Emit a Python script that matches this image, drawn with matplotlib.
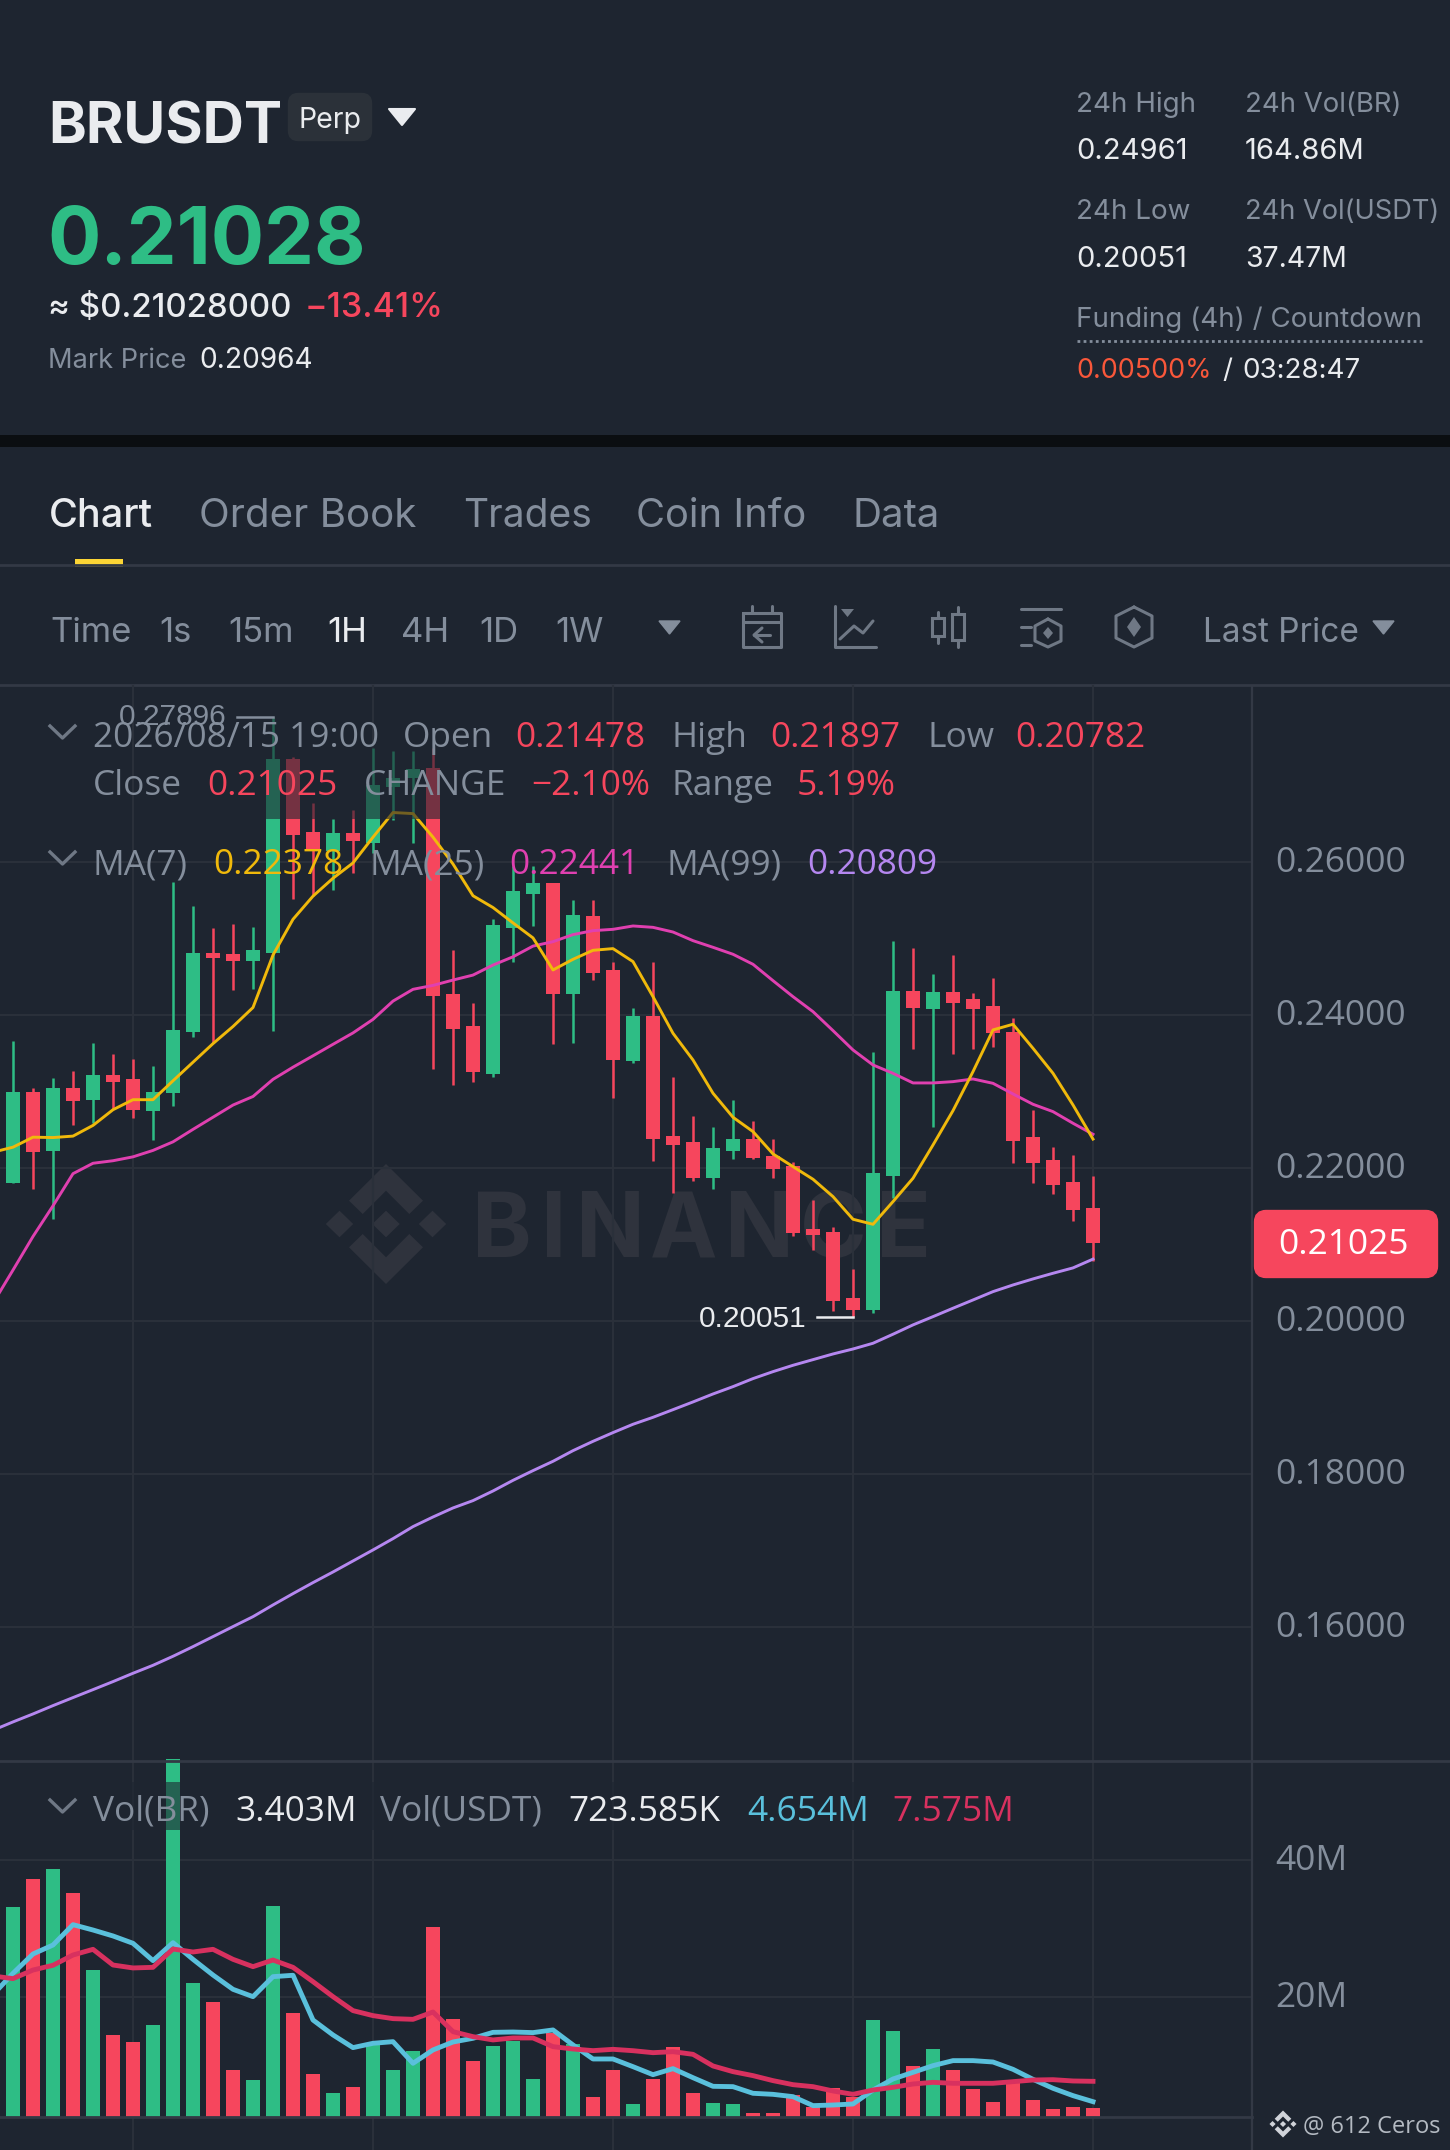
import numpy as np
import matplotlib
matplotlib.use("Agg")
import matplotlib.pyplot as plt
from matplotlib.patches import FancyBboxPatch, Polygon, Rectangle
from matplotlib.transforms import ScaledTranslation

W, H = 1450, 2150
BG = "#1E2530"
GREEN = "#2EBD85"
RED = "#F6465D"
GREY = "#848E9C"
WHITE = "#EAECEF"
LINE = "#333945"
GRID = "#2A303A"
ICON = "#6F7885"
YELLOW = "#F0B90B"
PINK = "#E040B0"
PURPLE = "#B587F0"
VOL_BLUE = "#5AC0DC"
VOL_PINK = "#D8315F"

# hourly candles
open_ = [.21810, .22996, .22216, .23047, .22888, .23220, .23168, .22748, .22982, .23780,
         .24817, .24793, .24704, .24807, .27342, .26390, .26138, .26381, .26255, .26978,
         .27095, .27226, .24270, .23850, .23229, .25143, .25587, .25730, .24279, .25294,
         .24589, .23404, .23988, .22415, .22341, .21874, .22219, .22375, .22162, .22027,
         .21203, .21169, .20301, .20149, .21901, .24310, .24083, .24301, .24210, .24114,
         .23783, .22402, .22105, .21813, .21478]
high = [.23663, .23047, .23173, .23266, .23640, .23486, .23421, .23327, .25741, .25419,
        .25139, .25185, .25148, .27896, .27375, .26778, .26567, .26684, .27492, .27445,
        .27445, .27492, .24854, .24154, .25251, .25951, .25951, .25730, .25504, .25504,
        .24689, .24088, .24698, .23195, .22676, .22532, .22890, .22619, .22375, .22084,
        .21582, .21234, .20681, .23513, .24961, .24872, .24532, .24780, .24284, .24480,
        .23957, .22759, .22271, .22166, .21897]
low = [.21810, .21726, .21338, .22566, .22589, .22776, .22655, .22370, .22814, .23710,
       .23640, .24331, .24336, .23785, .25522, .25554, .25638, .25858, .26115, .26549,
       .26255, .23299, .23080, .23122, .23196, .24690, .25167, .23621, .23639, .24458,
       .22920, .23378, .22097, .21678, .21826, .21731, .22114, .22114, .21866, .21116,
       .20929, .20136, .20051, .20110, .21604, .23561, .22541, .23486, .23552, .23587,
       .22070, .21809, .21656, .21304, .20782]
close = [.23000, .22207, .23047, .22879, .23210, .23126, .22758, .23000, .23799, .24807,
         .24742, .24704, .24849, .27342, .26353, .26147, .26381, .26269, .27002, .27104,
         .27216, .24242, .23817, .23252, .25176, .25620, .25722, .24275, .25303, .24554,
         .23408, .23988, .22384, .22306, .21874, .22266, .22375, .22127, .21983, .21155,
         .21121, .20262, .20149, .21935, .24310, .24088, .24301, .24162, .24075, .23761,
         .22354, .22070, .21779, .21452, .21025]

# moving averages start one candle left of the visible range
ma7 = [.22207, .22272, .22403, .22398, .22417, .22557, .22762, .22893, .22893, .23140,
       .23383, .23626, .23850, .24098, .24784, .25251, .25554, .25788, .25988, .26325,
       .26647, .26633, .26325, .25974, .25559, .25405, .25204, .25008, .24589, .24728,
       .24846, .24868, .24698, .24240, .23761, .23412, .22977, .22663, .22476, .22184,
       .22018, .21853, .21626, .21330, .21264, .21561, .21866, .22301, .22750, .23260,
       .23805, .23879, .23565, .23238, .22824, .22378]
ma25 = [.20232, .20666, .21105, .21506, .21926, .22062, .22095, .22146, .22230, .22342,
        .22505, .22664, .22823, .22935, .23159, .23318, .23467, .23617, .23766, .23943,
        .24182, .24336, .24387, .24457, .24522, .24653, .24761, .24901, .24959, .25051,
        .25103, .25120, .25164, .25146, .25085, .24972, .24885, .24794, .24663, .24449,
        .24240, .24044, .23796, .23543, .23347, .23238, .23112, .23112, .23129, .23164,
        .23107, .22968, .22833, .22737, .22585, .22441]
ma99 = [.14650, .14759, .14863, .14972, .15077, .15181, .15286, .15395, .15499, .15617,
        .15743, .15874, .16005, .16135, .16288, .16436, .16580, .16719, .16863, .17007,
        .17155, .17312, .17438, .17556, .17652, .17778, .17917, .18044, .18166, .18305,
        .18427, .18541, .18650, .18741, .18841, .18942, .19046, .19142, .19247, .19338,
        .19421, .19495, .19569, .19634, .19709, .19827, .19949, .20057, .20167, .20275,
        .20384, .20471, .20550, .20624, .20694, .20809]

# volume in millions
volume = [33.09, 37.23, 38.64, 35.14, 23.94, 14.41, 13.43, 15.87, 54.70, 22.00,
          19.22, 9.35, 7.84, 33.29, 17.67, 8.81, 6.04, 6.82, 12.95, 9.39,
          12.07, 30.22, 16.74, 10.66, 12.85, 13.63, 8.03, 14.70, 13.14, 5.35,
          9.29, 4.33, 7.98, 12.70, 5.94, 4.53, 4.43, 3.02, 3.02, 5.69,
          3.99, 6.76, 5.45, 16.59, 14.99, 9.88, 12.41, 9.34, 6.52, 4.62,
          7.64, 4.96, 3.60, 3.94, 3.75]
vol_ma_fast = [20.34, 23.46, 26.28, 27.59, 30.56, 29.78, 28.91, 27.84, 25.31, 27.93,
               25.50, 23.21, 21.12, 20.05, 22.97, 23.17, 16.64, 14.46, 12.61, 13.24,
               13.48, 10.32, 12.27, 13.43, 13.97, 14.84, 14.89, 14.80, 15.19, 13.00,
               10.95, 10.95, 9.83, 8.66, 9.54, 8.22, 6.96, 6.91, 5.94, 5.79,
               5.45, 4.14, 4.23, 4.38, 6.42, 8.03, 9.00, 9.98, 10.71, 10.71,
               10.51, 9.44, 7.98, 6.67, 5.60, 4.72]
vol_ma_slow = [23.07, 22.68, 23.94, 24.63, 26.13, 26.96, 24.67, 24.24, 24.33, 27.01,
               26.57, 26.96, 25.50, 24.43, 25.40, 24.33, 22.24, 20.05, 18.01, 17.28,
               16.84, 16.74, 17.81, 14.94, 14.21, 13.73, 14.02, 14.02, 12.75, 12.41,
               12.17, 12.36, 12.16, 11.87, 12.02, 11.63, 9.93, 9.10, 8.52, 7.79,
               7.20, 6.91, 6.28, 5.79, 6.42, 6.81, 7.30, 7.54, 7.40, 7.40,
               7.40, 7.64, 7.88, 7.93, 7.74, 7.69]

price_ticks = [.16, .18, .20, .22, .24, .26]
vol_ticks = [20, 40]
time_grid = [6, 18, 30, 42, 54]

plt.rcParams["font.family"] = ["Inter", "Noto Sans", "DejaVu Sans"]


def add_axes(fig, x0, y0, x1, y1, zorder):
    return fig.add_axes([x0 / W, 1 - y1 / H, (x1 - x0) / W, (y1 - y0) / H], zorder=zorder)


def style_panel(ax, ticks):
    ax.set_facecolor("none")
    ax.set_xlim(-0.65, 61.95)
    ax.set_xticks(time_grid)
    ax.set_yticks(ticks)
    ax.yaxis.tick_right()
    ax.tick_params(length=0, labelbottom=False, labelsize=25.5, labelcolor=GREY, pad=17)
    ax.grid(color=GRID, lw=1.5)
    ax.set_axisbelow(True)
    for s in ax.spines.values():
        s.set_visible(False)


def lift_labels(ax, px):
    shift = ScaledTranslation(0, px / 100, ax.figure.dpi_scale_trans)
    for lab in ax.get_yticklabels():
        lab.set_transform(lab.get_transform() + shift)


def txt(ax, x, y, s, size, color=GREY, weight="normal", family=None, ha="left"):
    return ax.text(x, y, s, fontsize=size, color=color, fontweight=weight, ha=ha, va="baseline",
                   family=family if family else plt.rcParams["font.family"])


def binance_logo(ax, cx, cy, k, color):
    d = [(0, -13.3), (13.7, 0), (0, 13.3), (-13.7, 0)]
    top = [(0, -60), (37, -23.3), (23.3, -10), (0, -33.3), (-23.3, -10), (-37, -23.3)]
    bottom = [(px, -py) for px, py in top]
    shapes = [d, [(px - 46.5, py) for px, py in d], [(px + 46.5, py) for px, py in d], top, bottom]
    for s in shapes:
        ax.add_patch(Polygon([(cx + k * px, cy + k * py) for px, py in s], closed=True, fc=color, ec="none"))


def icon_line(ax, xs, ys):
    ax.plot(xs, ys, color=ICON, lw=2.2, solid_capstyle="round", solid_joinstyle="round")


fig = plt.figure(figsize=(W / 100, H / 100), dpi=100, facecolor=BG)

# back layer for the watermark, front layer for the interface
back = add_axes(fig, 0, 0, W, H, 0)
back.set_xlim(0, W)
back.set_ylim(H, 0)
back.axis("off")
binance_logo(back, 386, 1224, 1.0, "#2F333D")
for letter, x in zip("BINANCE", [502, 554, 610, 684, 759, 833, 903]):
    back.text(x, 1257, letter, fontsize=65, color="#2F333D", fontweight="bold", ha="center", va="baseline", family="Inter")

# price panel
ax = add_axes(fig, 0, 686, 1252, 1761, 2)
style_panel(ax, price_ticks)
ax.set_ylim(0.14248, 0.28301)
ax.set_yticklabels(["%.5f" % t for t in price_ticks], family="Open Sans")
lift_labels(ax, 3)

for i in range(len(close)):
    c = GREEN if close[i] >= open_[i] else RED
    ax.vlines(i, low[i], high[i], color=c, lw=1.8, zorder=3)
    ax.bar(i, abs(close[i] - open_[i]), bottom=min(open_[i], close[i]), width=0.68, color=c, zorder=3)

ma_x = np.arange(-1, len(close))
ax.plot(ma_x, ma99, color=PURPLE, lw=2.1, zorder=4)
ax.plot(ma_x, ma25, color=PINK, lw=2.1, zorder=4)
ax.plot(ma_x, ma7, color=YELLOW, lw=2.1, zorder=4)

# low marker
ax.plot([40.2, 42], [low[42], low[42]], color=WHITE, lw=1.8, zorder=4)
ax.text(39.7, low[42] - 0.0003, "0.20051", fontsize=21.5, color=WHITE, ha="right", va="center", family="Liberation Sans", zorder=4)

# volume panel
vax = add_axes(fig, 0, 1755, 1252, 2117, 2)
style_panel(vax, vol_ticks)
vax.set_ylim(2.48, 55.33)
vax.set_yticklabels(["%dM" % t for t in vol_ticks], family="Open Sans")
lift_labels(vax, 3)
vol_colors = [GREEN if close[i] >= open_[i] else RED for i in range(len(close))]
vax.bar(np.arange(len(volume)), volume, width=0.69, color=vol_colors, zorder=3)
vax.plot(ma_x, vol_ma_fast, color=VOL_BLUE, lw=3.5, zorder=4)
vax.plot(ma_x, vol_ma_slow, color=VOL_PINK, lw=3.5, zorder=4)

foot = add_axes(fig, 0, 2117, 1252, H, 2)
style_panel(foot, [])
foot.set_ylim(0, 1)

# interface layer in pixel coordinates
ui = add_axes(fig, 0, 0, W, H, 5)
ui.set_xlim(0, W)
ui.set_ylim(H, 0)
ui.axis("off")

ui.add_patch(Rectangle((0, 435), W, 12, fc="#0B0E11", ec="none"))
for y in [565, 685, 1761, 2117]:
    x1 = 1252 if y == 2117 else W
    ui.plot([0, x1], [y, y], color=LINE, lw=2)
ui.plot([1252, 1252], [686, H], color=LINE, lw=1.6)

# translucent label backgrounds dim whatever sits behind them
ui.add_patch(Rectangle((40, 690), 1120, 129, fc=BG, ec="none", alpha=0.6))
ui.add_patch(Rectangle((40, 1782), 980, 48, fc=BG, ec="none", alpha=0.6))
for i in time_grid:
    ui.plot([13 + 20 * i] * 2, [686, 745 if i == 18 else 819], color=GRID, lw=1.5)

# high marker sits on top of the dimmed area, so it goes in this layer
ui.plot([11.2, 13], [high[13], high[13]], color=GREY, lw=1.8, transform=ax.transData)
ui.text(10.7, high[13], "0.27896", fontsize=21.5, color=GREY, ha="right", va="center",
        family="Liberation Sans", transform=ax.transData)

# header
txt(ui, 48, 143, "BRUSDT", 41.2, WHITE, "bold")
ui.add_patch(FancyBboxPatch((292, 97), 76, 40, boxstyle="round,pad=0,rounding_size=6", fc="#2B3139", ec="#2B3139", lw=6))
txt(ui, 299, 128, "Perp", 20.5, WHITE)
ui.add_patch(Polygon([(389, 109), (415, 109), (402, 125)], closed=True, fc=WHITE, ec=WHITE, lw=1.5, joinstyle="round"))
txt(ui, 47, 264, "0.21028", 57, GREEN, "bold")
txt(ui, 48, 317, "≈ $0.21028000", 23.8, WHITE, "medium")
txt(ui, 305, 317, "−13.41%", 24.5, RED, "medium")
txt(ui, 48, 368, "Mark Price", 19.6, GREY)
txt(ui, 199, 368, "0.20964", 20.3, WHITE)

txt(ui, 1076, 112, "24h High", 20)
txt(ui, 1245, 112, "24h Vol(BR)", 19.8)
txt(ui, 1076, 159, "0.24961", 21, WHITE)
txt(ui, 1245, 159, "164.86M", 21, WHITE)
txt(ui, 1076, 219, "24h Low", 20)
txt(ui, 1245, 219, "24h Vol(USDT)", 19.6)
txt(ui, 1076, 267, "0.20051", 21, WHITE)
txt(ui, 1245, 267, "37.47M", 20.4, WHITE)
txt(ui, 1076, 327, "Funding (4h) / Countdown", 20)
ui.plot([1077, 1422], [341, 341], color=GREY, lw=2, dashes=(1, 1.2))
txt(ui, 1076, 378, "0.00500%", 19.4, "#F9573A")
txt(ui, 1222, 378, "/", 20, WHITE)
txt(ui, 1242, 378, "03:28:47", 20, WHITE)

# tabs
tabs = [("Chart", 49, 28.5), ("Order Book", 199, 29), ("Trades", 463, 28), ("Coin Info", 636, 28.7), ("Data", 853, 29)]
for label, x, size in tabs:
    if label == "Chart":
        txt(ui, x, 527, label, size, WHITE, "medium")
    else:
        txt(ui, x, 527, label, size, GREY)
ui.add_patch(Rectangle((75, 559), 48, 8, fc="#FCD535", ec="none"))

# toolbar
periods = [("Time", 50), ("1s", 159), ("15m", 228), ("1H", 327), ("4H", 401), ("1D", 479), ("1W", 555)]
for label, x in periods:
    txt(ui, x, 642, label, 25, WHITE if label == "1H" else GREY)
txt(ui, 1203, 642, "Last Price", 24)
for x0, x1 in [(659, 680), (1373, 1394)]:
    ui.add_patch(Polygon([(x0, 621), (x1, 621), ((x0 + x1) / 2, 634)], closed=True, fc=GREY, ec=GREY, lw=1))

# toolbar icons
icon_line(ui, [743, 781, 781, 743, 743], [613, 613, 647, 647, 613])
icon_line(ui, [743, 781], [622, 622])
icon_line(ui, [752, 752], [606, 613])
icon_line(ui, [772, 772], [606, 613])
icon_line(ui, [770, 754], [635, 635])
icon_line(ui, [762, 754, 762], [628, 635, 642])
icon_line(ui, [835, 835, 876], [606, 647, 647])
ui.add_patch(Polygon([(841, 609), (854, 609), (847.5, 617)], closed=True, fc=ICON, ec="none"))
icon_line(ui, [840, 854, 863, 873], [639, 626, 633, 621])
ui.add_patch(Rectangle((932, 618), 12, 18, fc="none", ec=ICON, lw=2.2))
ui.add_patch(Rectangle((952, 614), 12, 26, fc="none", ec=ICON, lw=2.2))
icon_line(ui, [938, 938], [612, 618])
icon_line(ui, [938, 938], [636, 643])
icon_line(ui, [958, 958], [607, 614])
icon_line(ui, [958, 958], [640, 647])
icon_line(ui, [1021, 1061], [609, 609])
icon_line(ui, [1021, 1031], [627, 627])
icon_line(ui, [1021, 1031], [645, 645])
icon_line(ui, [1048, 1061, 1061, 1048, 1035, 1035, 1048], [619, 626, 641, 647, 641, 626, 619])
ui.add_patch(Polygon([(1048, 627), (1053, 633), (1048, 639), (1043, 633)], closed=True, fc=ICON, ec="none"))
icon_line(ui, [1134, 1152, 1152, 1134, 1116, 1116, 1134], [607, 616, 638, 647, 638, 616, 607])
ui.add_patch(Polygon([(1134, 617), (1141, 627), (1134, 637), (1127, 627)], closed=True, fc=ICON, ec="none"))

# legends over the chart
for cy in [732, 858, 1806]:
    ui.plot([50, 62.5, 75], [cy - 6, cy + 6, cy - 6], color=ICON, lw=2.4)

LF = "Open Sans"
row1 = [("2026/08/15 19:00", 93, GREY), ("Open", 403, GREY), ("0.21478", 515, RED), ("High", 672, GREY),
        ("0.21897", 770, RED), ("Low", 928, GREY), ("0.20782", 1015, RED)]
row2 = [("Close", 93, GREY), ("0.21025", 207, RED), ("CHANGE", 364, GREY), ("−2.10%", 531, RED),
        ("Range", 672, GREY), ("5.19%", 797, RED)]
row3 = [("MA(7)", 93, GREY), ("0.22378", 213, YELLOW), ("MA(25)", 370, GREY), ("0.22441", 509, PINK),
        ("MA(99)", 667, GREY), ("0.20809", 807, PURPLE)]
row4 = [("Vol(BR)", 93, GREY), ("3.403M", 235, WHITE), ("Vol(USDT)", 380, GREY), ("723.585K", 568, WHITE),
        ("4.654M", 747, VOL_BLUE), ("7.575M", 892, VOL_PINK)]
for y, row in [(747, row1), (795, row2), (874, row3), (1821, row4)]:
    for label, x, col in row:
        txt(ui, x, y, label, 25.4, col, family=LF)

# last price tag
ui.add_patch(FancyBboxPatch((1258, 1214), 176, 60, boxstyle="round,pad=0,rounding_size=8", fc=RED, ec=RED, lw=6))
ui.text(1344, 1245, "0.21025", fontsize=25.5, color="white", ha="center", va="center", fontweight="medium", family=LF)

# footer credit
binance_logo(ui, 1283, 2124, 0.225, "#D0D3D9")
txt(ui, 1303, 2133, "@ 612 Ceros", 17, "#B4BAC2", family=LF)

fig.savefig("out.png", dpi=100, facecolor=BG)
